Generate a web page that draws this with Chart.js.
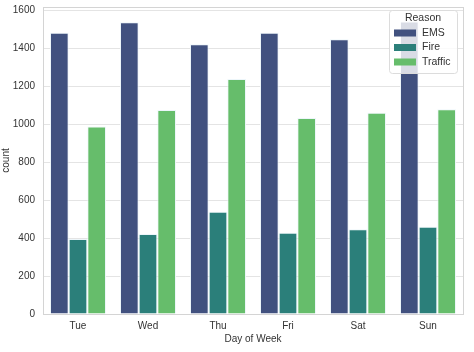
<!DOCTYPE html>
<html>
<head>
<meta charset="utf-8">
<script src="https://cdn.jsdelivr.net/npm/chart.js@4.4.1/dist/chart.umd.min.js"></script>
<style>
  html, body { margin: 0; padding: 0; background: #fff; }
  #wrap { width: 474px; height: 352px; }
</style>
</head>
<body>
<div id="wrap"><canvas id="countChart"></canvas></div>
<script>
// dados
const days = ['Tue', 'Wed', 'Thu', 'Fri', 'Sat', 'Sun'];
const emsCounts = [1481, 1537, 1421, 1482, 1447, 1540];
const fireCounts = [395, 421, 538, 428, 447, 460];
const trafficCounts = [988, 1074, 1238, 1032, 1060, 1079];
const yTicks = [0, 200, 400, 600, 800, 1000, 1200, 1400, 1600];

Chart.defaults.font.family = "'Liberation Sans', Arial, sans-serif";
Chart.defaults.font.size = 10;
Chart.defaults.color = '#333';

// moldura cinza (estilo whitegrid)
const framePlugin = {
    id: 'frame',
    afterDraw(chart) {
        const { ctx, chartArea: a } = chart;
        ctx.save();
        ctx.strokeStyle = '#d4d4d4';
        ctx.lineWidth = 1;
        ctx.strokeRect(Math.round(a.left) + 0.5, Math.round(a.top) + 0.5,
            Math.round(a.right - a.left), Math.round(a.bottom - a.top));
        ctx.restore();
    }
};

// legenda dentro da área do gráfico, canto superior direito
const legendBox = {
    id: 'legendBox',
    afterDraw(chart) {
        const { ctx, chartArea: a } = chart;
        const w = 68, h = 63;
        const x = a.right - w - 6, y = a.top + 3;
        ctx.save();
        ctx.fillStyle = 'rgba(255,255,255,0.8)';
        ctx.strokeStyle = '#dcdcdc';
        ctx.lineWidth = 1;
        ctx.beginPath();
        ctx.roundRect(x + 0.5, y + 0.5, w, h, 3);
        ctx.fill();
        ctx.stroke();
        ctx.font = "10.5px 'Liberation Sans', Arial, sans-serif";
        ctx.fillStyle = '#333';
        ctx.textBaseline = 'middle';
        ctx.textAlign = 'center';
        ctx.fillText('Reason', x + w / 2, y + 8);
        ctx.textAlign = 'left';
        chart.data.datasets.forEach((ds, i) => {
            const ry = y + 23 + i * 14.5;
            ctx.fillStyle = ds.backgroundColor;
            ctx.fillRect(x + 5, ry - 3.5, 22, 7);
            ctx.fillStyle = '#333';
            ctx.fillText(ds.label, x + 33, ry);
        });
        ctx.restore();
    }
};

const barStyle = { borderColor: 'rgba(235,245,250,0.9)', borderWidth: 1, borderSkipped: 'bottom', categoryPercentage: 0.8, barPercentage: 1.0 };

const ctx = document.getElementById('countChart').getContext('2d');
const countChart = new Chart(ctx, {
    type: 'bar',
    data: {
        labels: days,
        datasets: [
            { label: 'EMS', data: emsCounts, backgroundColor: '#41517f', ...barStyle },
            { label: 'Fire', data: fireCounts, backgroundColor: '#2b7f7a', ...barStyle },
            { label: 'Traffic', data: trafficCounts, backgroundColor: '#66bd6b', ...barStyle }
        ]
    },
    plugins: [framePlugin, legendBox],
    options: {
        responsive: true,
        maintainAspectRatio: false,
        animation: false,
        layout: { padding: { top: 7, right: 11, left: 0, bottom: 0 } },
        plugins: {
            legend: { display: false },
            tooltip: { enabled: false }
        },
        scales: {
            x: {
                grid: { display: false, drawTicks: false },
                border: { display: false },
                ticks: { padding: 6, color: '#333' },
                title: { display: true, text: 'Day of Week', color: '#333', padding: { top: 1, bottom: 7 } },
                afterFit: (scale) => { scale.height = 38; scale.paddingLeft = 0; scale.paddingRight = 0; }
            },
            y: {
                min: 0,
                max: 1617,
                grid: { color: '#e4e4e4', drawTicks: false },
                border: { display: false },
                afterBuildTicks: (scale) => { scale.ticks = yTicks.map(v => ({ value: v })); },
                ticks: { padding: 8, color: '#333', callback: (value) => String(value) },
                title: { display: true, text: 'count', color: '#333', padding: { top: 0, bottom: 0 } },
                afterFit: (scale) => { scale.width = 43; scale.paddingTop = 0; scale.paddingBottom = 0; }
            }
        }
    }
});
</script>
</body>
</html>
